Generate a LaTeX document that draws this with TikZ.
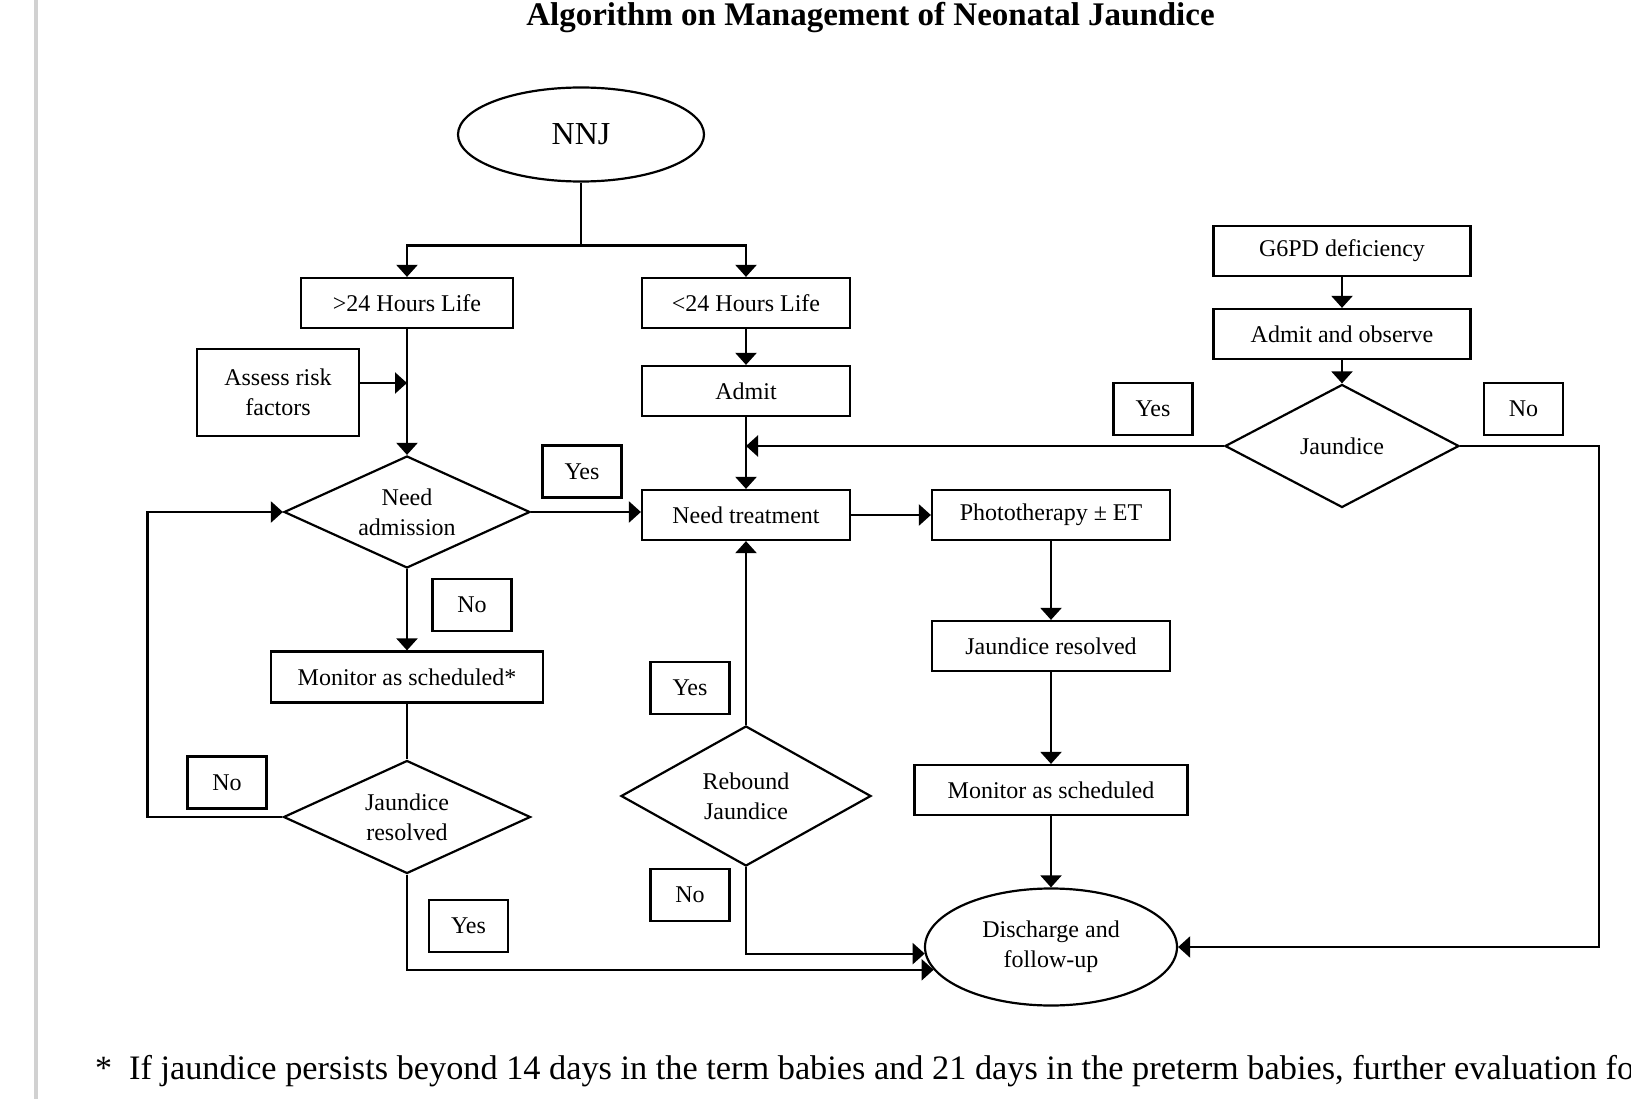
\documentclass[tikz,border=0pt]{standalone}
\usepackage{fontspec}
\setmainfont{Liberation Serif}
\usepackage{tikz}
\usetikzlibrary{shapes.geometric, arrows.meta, positioning}

\begin{document}
\begin{tikzpicture}[x=1pt, y=-1pt, node distance=125pt, line width=2.2pt, font=\fontsize{24}{30}\selectfont]
\tikzstyle{process} = [rectangle, minimum height=50pt, inner sep=2pt, text centered, draw=black]
\tikzstyle{decision} = [diamond, shape aspect=2.2, inner sep=0pt, align=center, draw=black]
\tikzstyle{startstop} = [ellipse, inner sep=0pt, align=center, draw=black]
\tikzstyle{answer} = [rectangle, minimum width=79pt, minimum height=52pt, inner sep=0pt, draw=black]
\tikzstyle{arrow} = [-{Triangle[width=21pt,length=12pt]}]

\useasboundingbox (0,0) rectangle (1631,1099);
\draw[black!18, line width=4pt] (36,0) -- (36,1099);

\node (title) [anchor=base, font=\fontsize{33}{36}\selectfont\bfseries] at (870.5,26) {Algorithm on Management of Neonatal Jaundice};

\node (nnj) [startstop, minimum width=246pt, minimum height=94pt, font=\fontsize{32}{36}\selectfont] at (581,134.5) {NNJ};
\coordinate (split) at ([yshift=-111pt]nnj.center);
\node (over24) [process, minimum width=212pt, below of=nnj, xshift=-174pt, yshift=-43.5pt] {>24 Hours Life};
\node (under24) [process, minimum width=208pt, below of=nnj, xshift=165pt, yshift=-43.5pt] {<24 Hours Life};
\node (admit) [process, minimum width=208pt, below of=under24, yshift=37pt] {Admit};
\node (needtreat) [process, minimum width=208pt, below of=admit, yshift=1pt] {Need treatment};
\node (assess) [process, minimum width=162pt, minimum height=87pt, align=center, left of=over24, xshift=-4pt, yshift=-89.5pt] {Assess risk\\factors};
\node (needadm) [decision, minimum width=246pt, minimum height=112pt, below of=over24, yshift=-84pt] {Need\\admission};
\node (monsched) [process, minimum width=272pt, minimum height=51pt, below of=needadm, yshift=-40pt] {Monitor as scheduled*};
\node (jresolv) [decision, minimum width=247pt, minimum height=113pt, below of=monsched, yshift=-15pt] {Jaundice\\resolved};
\node (rebound) [decision, minimum width=250pt, minimum height=140pt, below of=needtreat, yshift=-156pt] {Rebound\\Jaundice};
\node (photo) [process, minimum width=238pt, right of=needtreat, xshift=180pt] {Phototherapy ± ET};
\node (jres2) [process, minimum width=238pt, below of=photo, yshift=-6pt] {Jaundice resolved};
\node (mon2) [process, minimum width=273pt, below of=jres2, yshift=-19pt] {Monitor as scheduled};
\node (dis) [startstop, minimum width=252pt, minimum height=117pt, below of=mon2, yshift=-32pt] {Discharge and\\follow-up};
\node (g6pd) [process, minimum width=257pt, right of=under24, xshift=471pt, yshift=52pt] {G6PD deficiency};
\node (admobs) [process, minimum width=257pt, below of=g6pd, yshift=42pt] {Admit and observe};
\node (jaund) [decision, minimum width=234pt, minimum height=123pt, below of=admobs, yshift=13pt] {Jaundice};

\node (yes1) [answer, right of=needadm, xshift=50pt, yshift=40.5pt] {Yes};
\node (no1) [answer, below of=needadm, xshift=65pt, yshift=32pt] {No};
\node (no2) [answer, left of=jresolv, xshift=-55pt, yshift=34.5pt] {No};
\node (yes2) [answer, below of=jresolv, xshift=61.5pt, yshift=16pt] {Yes};
\node (yes3) [answer, above of=rebound, xshift=-56pt, yshift=-17pt] {Yes};
\node (no3) [answer, below of=rebound, xshift=-56pt, yshift=26pt] {No};
\node (yes4) [answer, left of=jaund, xshift=-64pt, yshift=37pt] {Yes};
\node (no4) [answer, right of=jaund, xshift=56.5pt, yshift=37pt] {No};

\draw (nnj) -- (split);
\draw [arrow] (split) -| (over24);
\draw [arrow] (split) -| (under24);
\draw [arrow] (over24) -- (needadm);
\draw [arrow] ([yshift=9.5pt]assess.east) -- ([yshift=9.5pt]assess.east -| over24.south);
\draw [arrow] (under24) -- (admit);
\draw [arrow] (admit) -- (needtreat);
\draw [arrow] (needadm.east) -- (needadm.east -| needtreat.west);
\draw [arrow] (needtreat) -- (photo);
\draw [arrow] (needadm) -- (monsched);
\draw (monsched) -- (jresolv);
\draw [arrow] (jresolv.west) -- ++(-135pt,0) |- (needadm.west);
\draw [arrow] (jresolv.south) |- (dis.191);
\draw [arrow] (rebound) -- (needtreat);
\draw [arrow] (rebound.south) |- (dis.183);
\draw [arrow] (photo) -- (jres2);
\draw [arrow] (jres2) -- (mon2);
\draw [arrow] (mon2) -- (dis);
\draw [arrow] (g6pd) -- (admobs);
\draw [arrow] (admobs) -- (jaund);
\draw [arrow] (jaund.west) -- (jaund.west -| admit.south);
\draw [arrow] (jaund.east) -- ++(139pt,0) |- (dis.east);

\node (star) [anchor=base west, inner sep=0pt, font=\fontsize{34}{38}\selectfont] at (94,1079) {*};
\node (note) [anchor=base west, inner sep=0pt, font=\fontsize{34.3}{38}\selectfont] at (128,1079) {If jaundice persists beyond 14 days in the term babies and 21 days in the preterm babies, further evaluation fo};

\end{tikzpicture}
\end{document}
